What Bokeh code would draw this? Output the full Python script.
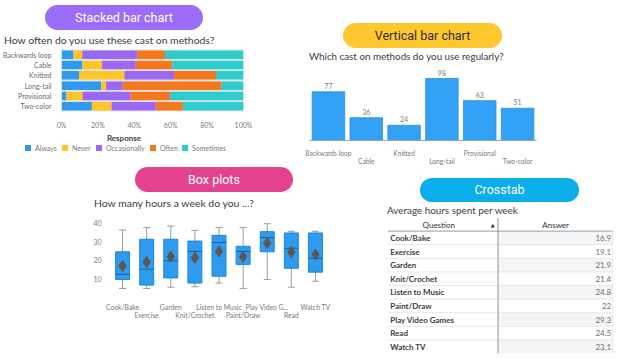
from bokeh.plotting import figure
from bokeh.models import (ColumnDataSource, FactorRange, Range1d, FixedTicker,
                          Div, LabelSet)
from bokeh.layouts import column, row
from bokeh.embed import file_html
from bokeh.resources import INLINE
from bokeh.core.properties import value

FONT = "Lato"
PILL_FONT = "Roboto"
AXIS_GRAY = "#7a7a7a"

# ---------------- data ----------------
methods = ["Backwards loop", "Cable", "Knitted", "Long-tail", "Provisional", "Two-color"]
responses = ["Always", "Never", "Occasionally", "Often", "Sometimes"]
pct_always = [6.6, 11.5, 9.6, 21.7, 2.7, 16.7]
pct_never = [4.8, 10.8, 25.0, 2.8, 8.9, 10.8]
pct_occasionally = [30.4, 18.5, 27.2, 9.2, 26.3, 24.3]
pct_often = [15.1, 20.1, 23.1, 54.2, 21.8, 14.9]
pct_sometimes = [43.1, 39.1, 15.1, 12.1, 40.3, 33.3]
response_colors = ["#2e9bf0", "#fcc62b", "#9a68f2", "#f5781e", "#2ecdcd"]
pct_ticks = [0, 20, 40, 60, 80, 100]
pct_tick_labels = ["0%", "20%", "40%", "60%", "80%", "100%"]

regular_counts = [77, 36, 24, 98, 63, 51]

activities = ["Cook/Bake", "Exercise", "Garden", "Knit/Crochet", "Listen to Music",
              "Paint/Draw", "Play Video Games", "Read", "Watch TV"]
activity_axis_labels = ["Cook/Bake", "Exercise", "Garden", "Knit/Crochet", "Listen to Music",
                        "Paint/Draw", "Play Video G...", "Read", "Watch TV"]
hours_low = [4.8, 4.8, 5.5, 5.7, 7.7, 4.8, 9.6, 5.5, 8.7]
hours_q1 = [9.6, 6.6, 10.5, 7.7, 11.4, 17.8, 24.6, 15.7, 13.6]
hours_median = [12.5, 15.2, 19.8, 24.8, 29.6, 24.8, 32.3, 26.5, 21.1]
hours_q3 = [24.6, 31.4, 31.4, 30.4, 33.5, 27.6, 35.5, 34.8, 34.8]
hours_high = [36.4, 37.7, 38.5, 36.2, 37.7, 37.7, 39.8, 35.7, 35.7]
hours_mean = [16.9, 19.1, 21.9, 21.4, 24.8, 22, 29.3, 24.5, 23.1]
hours_ticks = [10, 20, 30, 40]

# legend key layout (pixel offsets inside the legend strip)
legend_key_x = [25, 62, 96, 150, 182]


def header(w, h, px, py, pw, ph, bg, fg, ptext, sx, scy, stext, sub_size):
    html = (
        f'<div style="position:relative;width:{w}px;height:{h}px;">'
        f'<div style="position:absolute;left:{px}px;top:{py}px;width:{pw}px;height:{ph}px;'
        f'border-radius:{ph / 2}px;background:{bg};color:{fg};font-family:\'{PILL_FONT}\';'
        f'font-size:12.5px;line-height:{ph}px;text-align:center;white-space:nowrap;">{ptext}</div>'
        f'<div style="position:absolute;left:{sx}px;top:{scy - 7}px;height:14px;line-height:14px;'
        f'font-family:{FONT};font-size:{sub_size}px;color:#3c3c3c;white-space:nowrap;">{stext}</div>'
        f'</div>'
    )
    return Div(text=html, width=w, height=h, margin=0)


def legend_strip(w, h, title, labels, colors, xs):
    parts = [f'<div style="position:relative;width:{w}px;height:{h}px;font-family:{FONT};">',
             f'<div style="position:absolute;left:0;width:248px;top:1px;height:12px;'
             f'line-height:12px;text-align:center;font-size:8px;font-weight:bold;'
             f'color:#444444;">{title}</div>']
    for lab, col, x in zip(labels, colors, xs):
        parts.append(f'<div style="position:absolute;left:{x}px;top:14px;width:6px;height:6px;'
                     f'background:{col};"></div>')
        parts.append(f'<div style="position:absolute;left:{x + 10}px;top:12px;height:10px;'
                     f'line-height:10px;font-size:7px;color:{AXIS_GRAY};white-space:nowrap;">'
                     f'{lab}</div>')
    parts.append('</div>')
    return Div(text="".join(parts), width=w, height=h, margin=0)


def base_fig(**kw):
    p = figure(output_backend="svg", toolbar_location=None, **kw)
    p.outline_line_color = None
    p.xgrid.visible = False
    p.ygrid.visible = False
    p.border_fill_color = "white"
    return p


def style_axis(ax, size="7px"):
    ax.axis_line_color = None
    ax.major_tick_line_color = None
    ax.minor_tick_line_color = None
    ax.major_label_text_font = FONT
    ax.major_label_text_font_size = size
    ax.major_label_text_color = AXIS_GRAY


# ---------------- stacked bar chart ----------------
srcA = ColumnDataSource(dict(method=methods, Always=pct_always, Never=pct_never,
                             Occasionally=pct_occasionally, Often=pct_often,
                             Sometimes=pct_sometimes))
pA = base_fig(width=300, height=84, y_range=FactorRange(*reversed(methods)),
              x_range=Range1d(0, 100), min_border_left=56, min_border_right=57,
              min_border_top=2, min_border_bottom=15)
pA.background_fill_color = "#e3e3e3"
pA.hbar_stack(responses, y="method", height=0.82, color=response_colors,
              line_color=None, source=srcA)
style_axis(pA.xaxis[0])
style_axis(pA.yaxis[0])
pA.xaxis.ticker = FixedTicker(ticks=pct_ticks)
pA.xaxis.major_label_overrides = dict(zip(pct_ticks, pct_tick_labels))
pA.xaxis.major_label_standoff = 3
pA.yaxis.major_label_standoff = 4
pA.yaxis.major_label_text_color = "#6a6a6a"

legA = legend_strip(300, 36, "Response", responses, response_colors, legend_key_x)

hdrA = header(300, 47, 45, 5, 158, 25, "#9c6dfb", "white", "Stacked bar chart",
              4, 40, "How often do you use these cast on methods?", 10.4)

# ---------------- vertical bar chart ----------------
xB = list(range(len(methods)))
srcB = ColumnDataSource(dict(x=xB, v=regular_counts, t=[str(v) for v in regular_counts]))
pB = base_fig(width=324, height=103, x_range=Range1d(-0.5, len(methods) - 0.5),
              y_range=Range1d(0, 117), min_border_left=9, min_border_right=88,
              min_border_top=2, min_border_bottom=19)
pB.vbar(x="x", top="v", width=0.86, source=srcB, fill_color="#33a1f5", line_color="#2790e3",
        line_width=0.8)
pB.add_layout(LabelSet(x="x", y="v", text="t", source=srcB, y_offset=3, text_align="center",
                       text_baseline="bottom", text_font=value(FONT), text_font_size="7px",
                       text_color=AXIS_GRAY))
pB.yaxis.visible = False
style_axis(pB.xaxis[0], "6.7px")
pB.xaxis.axis_line_color = "#a0a0a0"
pB.xaxis.ticker = FixedTicker(ticks=xB)
pB.xaxis.major_label_overrides = {i: (m if i % 2 == 0 else "\n" + m) for i, m in enumerate(methods)}
pB.xaxis.major_label_standoff = 2
pB.xaxis.major_label_text_line_height = 1.0

hdrB = header(324, 64, 43, 23, 159, 25, "#ffc82f", "#2f2f2f", "Vertical bar chart",
              9, 55.5, "Which cast on methods do you use regularly?", 9.8)

# ---------------- box plots ----------------
xC = list(range(len(activities)))
srcC = ColumnDataSource(dict(x=xC, low=hours_low, q1=hours_q1, med=hours_median,
                             q3=hours_q3, high=hours_high, mean=hours_mean))
pC = base_fig(width=380, height=143, x_range=Range1d(-0.5, len(activities) - 0.5),
              y_range=Range1d(2.6, 43.7), min_border_left=110, min_border_right=53,
              min_border_top=0, min_border_bottom=67)
pC.segment(x0="x", y0="low", x1="x", y1="high", source=srcC, line_color="#9a9a9a",
           line_width=1)
pC.scatter(x="x", y="low", source=srcC, marker="dash", size=7, line_color="#9a9a9a",
           line_width=1)
pC.scatter(x="x", y="high", source=srcC, marker="dash", size=7, line_color="#9a9a9a",
           line_width=1)
pC.vbar(x="x", bottom="q1", top="q3", width=0.58, source=srcC, fill_color="#2e9bf0",
        line_color="#1f86d8", line_width=1)
pC.scatter(x="x", y="med", source=srcC, marker="dash", size=14, line_color="#1b5f9c",
           line_width=1)
pC.scatter(x="x", y="mean", source=srcC, marker="diamond", size=11, fill_color="#5c5552",
           line_color="#5c5552")
style_axis(pC.xaxis[0], "6.8px")
style_axis(pC.yaxis[0], "7px")
pC.yaxis.ticker = FixedTicker(ticks=hours_ticks)
pC.yaxis.major_label_standoff = 3
pC.xaxis.ticker = FixedTicker(ticks=xC)
pC.xaxis.major_label_overrides = {i: (a if i % 2 == 0 else "\n" + a)
                                  for i, a in enumerate(activity_axis_labels)}
pC.xaxis.major_label_standoff = 4
pC.xaxis.major_label_text_line_height = 1.1

hdrC = header(380, 49, 135, 0, 158, 25, "#e3438e", "white", "Box plots",
              94, 36, "How many hours a week do you ...?", 10.4)

# ---------------- crosstab ----------------
n = len(activities)
rowsD = list(range(n))
srcD = ColumnDataSource(dict(r=rowsD, q=activities, a=[f"{v:g}" for v in hours_mean]))
pD = base_fig(width=244, height=142, x_range=Range1d(0, 1), y_range=Range1d(n - 0.5, -1.5),
              min_border_left=7, min_border_right=11, min_border_top=0, min_border_bottom=6)
pD.xaxis.visible = False
pD.yaxis.visible = False
DIV_X = 0.489
pD.hbar(y=rowsD[::2], left=DIV_X, right=1, height=1, fill_color="#f4f5f7", line_color=None)
pD.segment(x0=[0] * (n - 1), x1=[1] * (n - 1), y0=[r + 0.5 for r in rowsD[:-1]],
           y1=[r + 0.5 for r in rowsD[:-1]], line_color="#e8e8e8", line_width=1)
pD.segment(x0=[0], x1=[1], y0=[-0.5], y1=[-0.5], line_color="#a9b0b8", line_width=1.2)
pD.segment(x0=[DIV_X], x1=[DIV_X], y0=[-1.45], y1=[n - 0.5], line_color="#8e8e8e",
           line_width=1)
pD.segment(x0=[0.997], x1=[0.997], y0=[-0.5], y1=[n - 0.5], line_color="#e4e6ea",
           line_width=1)
pD.text(x=[0.227, 0.744], y=[-0.95, -0.95], text=["Question", "Answer"],
        text_font=value(FONT), text_font_size="8px", text_color="#333333",
        text_align="center", text_baseline="middle")
pD.text(x=[0.465], y=[-0.95], text=["▲"], text_font=value("DejaVu Sans"),
        text_font_size="5px", text_color="#333333", text_align="center",
        text_baseline="middle")
pD.text(x=0.012, y="r", text="q", source=srcD, text_font=value(FONT), text_font_size="8px",
        text_font_style="bold", text_color="#3d3d3d", text_align="left",
        text_baseline="middle")
pD.text(x=0.99, y="r", text="a", source=srcD, text_font=value(FONT), text_font_size="8px",
        text_color="#6e6e6e", text_align="right", text_baseline="middle")

hdrD = header(244, 50, 40, 11, 159, 24, "#0badeb", "white", "Crosstab",
              7, 42.5, "Average hours spent per week", 9.9)

layout = column(
    row(column(hdrA, pA, legA, spacing=0), column(hdrB, pB, spacing=0), spacing=0),
    row(column(hdrC, pC, spacing=0), column(hdrD, pD, spacing=0), spacing=0),
    spacing=0,
)

open("out.html", "w").write(file_html(layout, INLINE))
